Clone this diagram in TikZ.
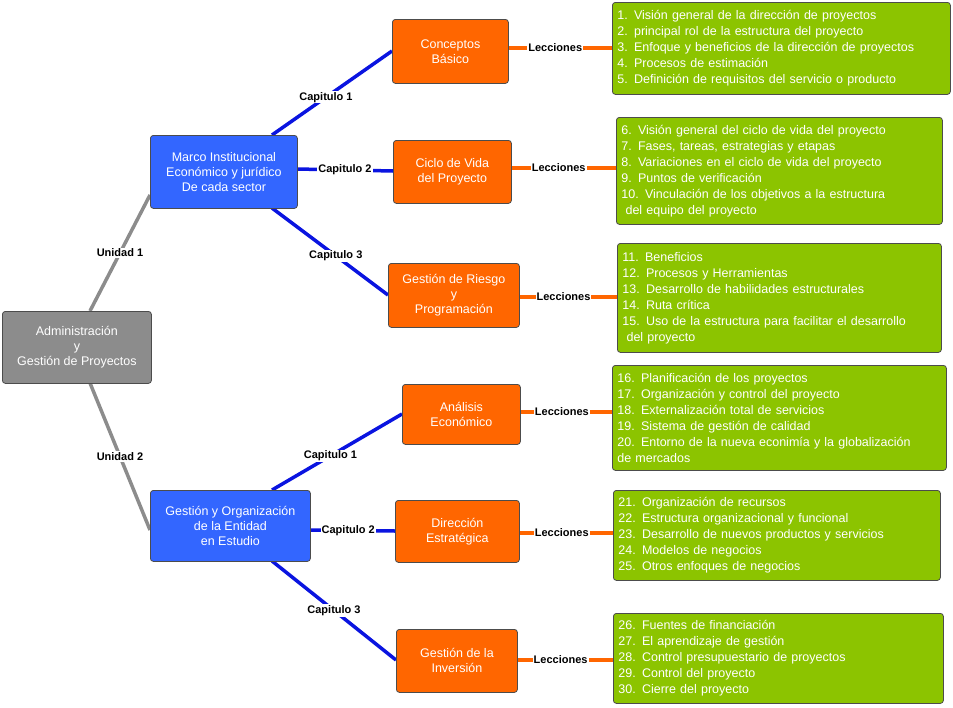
\documentclass[tikz,border=0pt]{standalone}
\usepackage{fontspec}
\setmainfont{Liberation Sans}
\begin{document}
\begin{tikzpicture}[x=1pt,y=-1pt,
 bx/.style={draw=black!70,line width=0.8pt,rounded corners=3pt,text=white,align=center,font=\fontsize{12.5}{15}\selectfont,anchor=north west,inner sep=0pt},
 grn/.style={draw=black!70,line width=0.8pt,rounded corners=3pt,fill=green!50!yellow!70!black,fill=gn,text=white,align=left,font=\fontsize{12.5}{16}\selectfont,anchor=north west,inner xsep=5pt,inner ysep=0pt},
 lbl/.style={font=\bfseries\fontsize{11}{13}\selectfont,fill=white,inner sep=1pt},
 ge/.style={draw=gray!90,line width=3.5pt},
 be/.style={draw=bl2,line width=3.5pt},
 oe/.style={draw=or,line width=3.5pt}]
\definecolor{gn}{HTML}{8CC400}
\definecolor{or}{HTML}{FF6600}
\definecolor{bl}{HTML}{3366FF}
\definecolor{bl2}{HTML}{0A14E0}
\definecolor{gr}{HTML}{8C8C8C}
\useasboundingbox (0,0) rectangle (953,707);
% coordinates for edges
\coordinate (r1) at (90,311); \coordinate (r2) at (90,383);
\coordinate (u1a) at (150,195); \coordinate (u2a) at (150,530);
\draw[ge] (r1) -- (u1a) node[pos=0.5,lbl]{Unidad 1};
\draw[ge] (r2) -- (u2a) node[pos=0.5,lbl]{Unidad 2};
\node[bx,fill=gr,minimum width=149pt,minimum height=72pt] (root) at (2,311) {Administración\\y\\Gestión de Proyectos};
% unit 1
\coordinate (a1) at (272,135); \coordinate (a2) at (297,169); \coordinate (a3) at (272,208);
\coordinate (c1) at (392,51); \coordinate (c2) at (393,171); \coordinate (c3) at (388,295);
\draw[be] (a1) -- (c1) node[pos=0.45,lbl]{Capitulo 1};
\draw[be] (a2) -- (c2) node[pos=0.5,lbl]{Capitulo 2};
\draw[be] (a3) -- (c3) node[pos=0.55,lbl]{Capitulo 3};
\node[bx,fill=bl,minimum width=147pt,minimum height=73pt] (u1) at (150,135) {Marco Institucional\\Económico y jurídico\\De cada sector};
% unit 2
\coordinate (b1) at (272,490); \coordinate (b2) at (310,530); \coordinate (b3) at (272,561);
\coordinate (d1) at (402,414); \coordinate (d2) at (395,531); \coordinate (d3) at (396,660);
\draw[be] (b1) -- (d1) node[pos=0.45,lbl]{Capitulo 1};
\draw[be] (b2) -- (d2) node[pos=0.45,lbl]{Capitulo 2};
\draw[be] (b3) -- (d3) node[pos=0.5,lbl]{Capitulo 3};
\node[bx,fill=bl,minimum width=160pt,minimum height=71pt] (u2) at (150,490) {Gestión y Organización\\de la Entidad\\en Estudio};
% orange boxes
\node[bx,fill=or,minimum width=116pt,minimum height=64pt] (o1) at (392,19) {Conceptos\\Básico};
\node[bx,fill=or,minimum width=118pt,minimum height=63pt] (o2) at (393,140) {Ciclo de Vida\\del Proyecto};
\node[bx,fill=or,minimum width=131pt,minimum height=64pt] (o3) at (388,263) {Gestión de Riesgo\\y\\Programación};
\node[bx,fill=or,minimum width=118pt,minimum height=60pt] (o4) at (402,384) {Análisis\\Económico};
\node[bx,fill=or,minimum width=124pt,minimum height=62pt] (o5) at (395,500) {Dirección\\Estratégica};
\node[bx,fill=or,minimum width=121pt,minimum height=63pt] (o6) at (396,629) {Gestión de la\\Inversión};
% green boxes
\node[grn,minimum width=338pt,minimum height=92pt,text width=328pt] (g1) at (612,2) {1. Visión general de la dirección de proyectos\\2. principal rol de la estructura del proyecto\\3. Enfoque y beneficios de la dirección de proyectos\\4. Procesos de estimación\\5. Definición de requisitos del servicio o producto};
\node[grn,minimum width=326pt,minimum height=107pt,text width=316pt] (g2) at (616,117) {6. Visión general del ciclo de vida del proyecto\\7. Fases, tareas, estrategias y etapas\\8. Variaciones en el ciclo de vida del proyecto\\9. Puntos de verificación\\10. Vinculación de los objetivos a la estructura\\\ del equipo del proyecto};
\node[grn,minimum width=324pt,minimum height=109pt,text width=314pt] (g3) at (617,243) {11. Beneficios\\12. Procesos y Herramientas\\13. Desarrollo de habilidades estructurales\\14. Ruta crítica\\15. Uso de la estructura para facilitar el desarrollo\\\ del proyecto};
\node[grn,minimum width=334pt,minimum height=105pt,text width=324pt] (g4) at (612,365) {16. Planificación de los proyectos\\17. Organización y control del proyecto\\18. Externalización total de servicios\\19. Sistema de gestión de calidad\\20. Entorno de la nueva econimía y la globalización\\de mercados};
\node[grn,minimum width=327pt,minimum height=90pt,text width=317pt] (g5) at (613,490) {21. Organización de recursos\\22. Estructura organizacional y funcional\\23. Desarrollo de nuevos productos y servicios\\24. Modelos de negocios\\25. Otros enfoques de negocios};
\node[grn,minimum width=330pt,minimum height=90pt,text width=320pt] (g6) at (613,613) {26. Fuentes de financiación\\27. El aprendizaje de gestión\\28. Control presupuestario de proyectos\\29. Control del proyecto\\30. Cierre del proyecto};
% orange edges
\foreach \o/\g/\y in {o1/g1/48,o2/g2/168,o3/g3/297,o4/g4/412,o5/g5/533,o6/g6/660}{
  \draw[oe] (\o.east |- 0,\y) -- (\g.west |- 0,\y) node[pos=0.45,lbl]{Lecciones};
}
\end{tikzpicture}
\end{document}
